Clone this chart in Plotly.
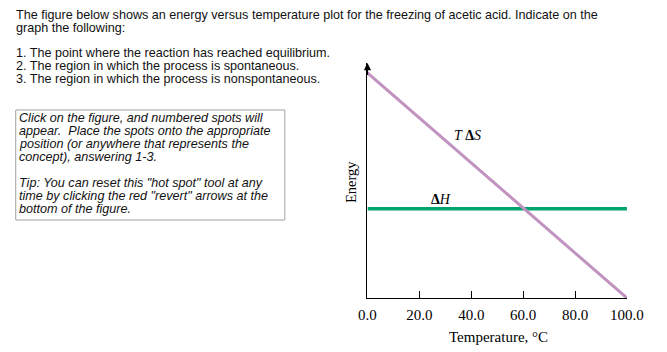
import plotly.graph_objects as go

W, H = 667, 352

# Data
temperature = [0.0, 100.0]
t_delta_s = [100.0, 0.0]
delta_h = [39.6, 39.6]
x_ticks = [0, 20, 40, 60, 80, 100]
x_tick_labels = ["0.0", "20.0", "40.0", "60.0", "80.0", "100.0"]

intro_lines = [
    "The figure below shows an energy versus temperature plot for the freezing of acetic acid. Indicate on the",
    "graph the following:",
    "",
    "1. The point where the reaction has reached equilibrium.",
    "2. The region in which the process is spontaneous.",
    "3. The region in which the process is nonspontaneous.",
]
box_lines = [
    "Click on the figure, and numbered spots will",
    "appear.  Place the spots onto the appropriate",
    "position (or anywhere that represents the",
    "concept), answering 1-3.",
    "",
    "Tip: You can reset this \"hot spot\" tool at any",
    "time by clicking the red \"revert\" arrows at the",
    "bottom of the figure.",
]

def px(x):
    return x / W

def py(y):
    return 1 - y / H

x0_px, x1_px = 373, 643
y0_px, y1_px = 298, 63
ymax = 104.4

fig = go.Figure()
fig.add_trace(go.Scatter(x=temperature, y=delta_h, mode="lines",
                         line=dict(color="#00a270", width=3.5), hoverinfo="skip"))
fig.add_trace(go.Scatter(x=temperature, y=t_delta_s, mode="lines",
                         line=dict(color="#c193c0", width=3), hoverinfo="skip"))

serif = "Liberation Serif, Times New Roman, serif"
sans = "Liberation Sans, Arial, sans-serif"

annotations = []
for i, line in enumerate(intro_lines):
    if not line:
        continue
    yc = 15 + i * 13 if i < 2 else 53 + (i - 3) * 13
    annotations.append(dict(text=line, x=px(5), y=py(yc), xref="paper", yref="paper",
                            xanchor="left", yanchor="middle", showarrow=False,
                            font=dict(family=sans, size=12.6, color="#111")))
for i, line in enumerate(box_lines):
    if not line:
        continue
    yc = 118 + i * 13
    annotations.append(dict(text="<i>" + line + "</i>", x=px(8), y=py(yc), xref="paper", yref="paper",
                            xanchor="left", yanchor="middle", showarrow=False,
                            font=dict(family=sans, size=12.6, color="#111")))

def label(text, x, y, size, angle=0):
    return dict(text=text, x=px(x), y=py(y), xref="paper", yref="paper",
                xanchor="center", yanchor="middle", showarrow=False, textangle=angle,
                font=dict(family=serif, size=size, color="#000"))

annotations.append(label("<i>T</i> <b>Δ</b><i>S</i>", 477, 135, 14))
annotations.append(label("<b>Δ</b><i>H</i>", 450, 199, 14))
annotations.append(label("Energy", 356, 182, 14.5, -90))
annotations.append(label("Temperature, °C", 509, 337, 15))
annotations.append(dict(x=0, y=ymax, ax=0, ay=ymax - 6, xref="x", yref="y", axref="x", ayref="y",
                        text="", showarrow=True, arrowhead=2, arrowsize=1.2, arrowwidth=1.2,
                        arrowcolor="#000"))

shapes = [
    dict(type="rect", xref="paper", yref="paper", x0=px(7), x1=px(287), y0=py(220), y1=py(110),
         line=dict(color="#a0a0a0", width=1), fillcolor="rgba(0,0,0,0)", layer="below"),
]

fig.update_layout(
    width=W, height=H,
    margin=dict(l=0, r=0, t=0, b=0),
    paper_bgcolor="white", plot_bgcolor="white",
    showlegend=False,
    xaxis=dict(domain=[px(x0_px), px(x1_px)], range=[0, 100], showgrid=False, zeroline=False,
               showline=True, linecolor="#000", linewidth=1,
               ticks="inside", ticklen=7, tickcolor="#000", tickwidth=1,
               tickvals=x_ticks, ticktext=x_tick_labels, ticklabelstandoff=3,
               tickfont=dict(family=serif, size=15, color="#000"), fixedrange=True),
    yaxis=dict(domain=[py(y0_px), py(y1_px)], range=[0, ymax], showgrid=False, zeroline=False,
               showline=True, linecolor="#000", linewidth=1, showticklabels=False, ticks="",
               fixedrange=True),
    annotations=annotations,
    shapes=shapes,
)

fig.write_html("out.html", config={"displayModeBar": False})
